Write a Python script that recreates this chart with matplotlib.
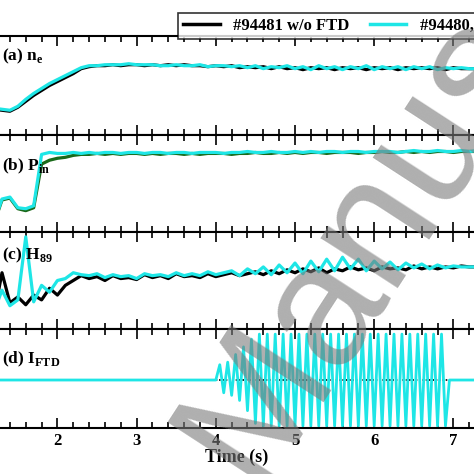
import numpy as np
import matplotlib
matplotlib.use("Agg")
import matplotlib.pyplot as plt
from matplotlib.ticker import MultipleLocator

plt.rcParams['font.family'] = ['Liberation Serif', 'DejaVu Serif']
plt.rcParams['font.weight'] = 'bold'
plt.rcParams['mathtext.fontset'] = 'custom'
plt.rcParams['mathtext.bf'] = 'Liberation Serif:bold'
plt.rcParams['mathtext.rm'] = 'Liberation Serif:bold'

t = np.round(np.arange(1.2, 7.31, 0.1), 2)

ne_black = [0.26,0.25,0.24,0.28,0.34,0.40,0.45,0.50,0.54,0.58,0.62,0.67,0.69,0.70,0.70,0.71,0.70,0.71,0.71,0.70,
            0.71,0.70,0.71,0.70,0.71,0.70,0.70,0.69,0.70,0.69,0.70,0.68,0.69,0.68,0.69,0.67,0.69,0.67,0.68,0.66,
            0.68,0.67,0.68,0.66,0.68,0.67,0.68,0.66,0.68,0.67,0.68,0.66,0.68,0.67,0.68,0.67,0.68,0.66,0.68,0.67,0.67,0.67]
ne_cyan = [0.27,0.26,0.25,0.29,0.36,0.42,0.47,0.52,0.56,0.60,0.64,0.68,0.70,0.70,0.71,0.71,0.71,0.72,0.71,0.71,
           0.71,0.70,0.70,0.71,0.70,0.70,0.71,0.69,0.70,0.70,0.69,0.70,0.68,0.70,0.67,0.69,0.68,0.70,0.67,0.69,
           0.66,0.70,0.67,0.69,0.66,0.69,0.67,0.70,0.66,0.69,0.67,0.69,0.66,0.69,0.67,0.69,0.66,0.68,0.67,0.68,0.67,0.67]

pin_black = [0.09,0.33,0.35,0.24,0.22,0.25,0.70,0.74,0.76,0.77,0.79,0.80,0.80,0.81,0.80,0.81,0.80,0.81,0.81,0.80,
             0.81,0.80,0.81,0.81,0.80,0.81,0.80,0.81,0.81,0.81,0.80,0.81,0.81,0.82,0.81,0.81,0.82,0.81,0.82,0.81,
             0.82,0.82,0.81,0.82,0.82,0.82,0.81,0.82,0.82,0.83,0.82,0.82,0.83,0.82,0.83,0.82,0.83,0.83,0.82,0.83,0.83,0.83]
pin_cyan = [0.10,0.34,0.36,0.25,0.24,0.27,0.80,0.82,0.81,0.81,0.82,0.81,0.82,0.81,0.82,0.82,0.81,0.82,0.82,0.81,
            0.82,0.82,0.81,0.82,0.82,0.81,0.82,0.82,0.82,0.81,0.82,0.82,0.83,0.82,0.82,0.83,0.82,0.82,0.83,0.82,
            0.83,0.82,0.83,0.83,0.82,0.83,0.83,0.82,0.83,0.83,0.83,0.82,0.83,0.84,0.83,0.83,0.84,0.83,0.83,0.84,0.83,0.84]

h89_black = [0.15,0.58,0.27,0.33,0.25,0.35,0.30,0.42,0.35,0.45,0.50,0.55,0.52,0.54,0.50,0.55,0.52,0.53,0.51,0.56,
             0.53,0.55,0.52,0.57,0.54,0.55,0.53,0.57,0.54,0.56,0.58,0.55,0.57,0.59,0.56,0.60,0.57,0.61,0.58,0.62,
             0.59,0.63,0.58,0.62,0.60,0.64,0.61,0.63,0.60,0.64,0.62,0.63,0.61,0.65,0.62,0.64,0.62,0.64,0.63,0.65,0.64,0.64]
h89_cyan = [0.18,0.40,0.24,0.30,0.95,0.28,0.45,0.38,0.50,0.52,0.58,0.56,0.55,0.57,0.53,0.56,0.54,0.55,0.52,0.57,
            0.55,0.56,0.54,0.58,0.55,0.57,0.55,0.59,0.56,0.58,0.60,0.55,0.62,0.57,0.64,0.56,0.66,0.58,0.68,0.57,
            0.70,0.59,0.72,0.60,0.74,0.62,0.72,0.60,0.70,0.62,0.69,0.61,0.68,0.63,0.67,0.62,0.66,0.63,0.65,0.64,0.64,0.64]

ftd_t = np.round(np.concatenate([[1.2], np.arange(4.0, 6.951, 0.05), [7.3]]), 3)
ftd_amp = [0.0, 0.0, 0.3, -0.25, 0.35, -0.3, 0.5, -0.4, 0.65, -0.6, 0.8, -0.85] + \
          [0.9 if i % 2 == 0 else -0.9 for i in range(48)] + [0.0, 0.0]
ftd_amp = ftd_amp[:len(ftd_t)]

labels = [r'(a) n$_\mathbf{e}$', r'(b) P$_\mathbf{in}$', r'(c) H$_\mathbf{89}$', r'(d) I$_\mathbf{FTD}$']
lab_y = [0.70, 0.58, 0.66, 0.60]
black_c = '#000000'
cyan_c = '#1ee6e6'

fig = plt.figure(figsize=(4.74, 4.74), dpi=100)
H = 474.0
tops = [36, 135, 232, 329]
bots = [135, 232, 329, 428]
axes = []
for i in range(4):
    ax = fig.add_axes([-0.01, 1 - bots[i] / H, 1.02, (bots[i] - tops[i]) / H])
    axes.append(ax)
    ax.set_xlim(1.215, 7.32)
    ax.set_yticks([])
    ax.xaxis.set_major_locator(MultipleLocator(1))
    ax.xaxis.set_minor_locator(MultipleLocator(0.2))
    ax.tick_params(axis='x', which='both', direction='in', top=True, bottom=True, width=1.2)
    ax.tick_params(axis='x', which='major', length=7)
    ax.tick_params(axis='x', which='minor', length=4)
    for s in ax.spines.values():
        s.set_linewidth(1.5)
    if i < 3:
        ax.set_xticklabels([])
    ax.text(0.014, lab_y[i], labels[i], transform=ax.transAxes, fontsize=12.5, fontweight='bold', va='bottom')

lw = 2.3
axes[0].plot(t, ne_black, color=black_c, lw=lw, label='#94481 w/o FTD')
axes[0].plot(t, ne_cyan, color=cyan_c, lw=lw, label='#94480, w/o FTD')
axes[0].set_ylim(0, 1)
axes[1].plot(t, pin_black, color='#1a6a1a', lw=lw)
axes[1].plot(t, pin_cyan, color=cyan_c, lw=lw)
axes[1].set_ylim(0, 1)
axes[2].plot(t, h89_black, color=black_c, lw=lw)
axes[2].plot(t, h89_cyan, color=cyan_c, lw=lw)
axes[2].set_ylim(0, 1)
axes[3].plot([t[0], t[-1]], [0, 0], color=black_c, lw=1.2, ls=(0, (1, 1)))
axes[3].plot(ftd_t, ftd_amp, color=cyan_c, lw=2.0)
axes[3].set_ylim(-0.94, 1.0)

axes[3].set_xlabel('Time (s)', fontsize=13, fontweight='bold', labelpad=0)
for lb in axes[3].get_xticklabels():
    lb.set_fontsize(12)
    lb.set_fontweight('bold')

h, l = axes[0].get_legend_handles_labels()
leg = fig.legend(h, l, loc='upper left', bbox_to_anchor=(170 / H, 1 - 5 / H), ncol=2,
                 frameon=True, fancybox=False, edgecolor='black',
                 handlelength=2.2, borderpad=0.3, columnspacing=1.2,
                 prop={'weight': 'bold', 'size': 12})
leg.get_frame().set_linewidth(1.2)
for ln in leg.get_lines():
    ln.set_linewidth(2.5)

fig.text(0.60, -0.07, 'Manuscript', rotation=57, fontsize=125, color='#7a7a7a', alpha=0.6,
         family='Liberation Sans', fontweight='normal', ha='left', va='bottom',
         rotation_mode='anchor', zorder=10)

fig.savefig('out.png', dpi=100)
